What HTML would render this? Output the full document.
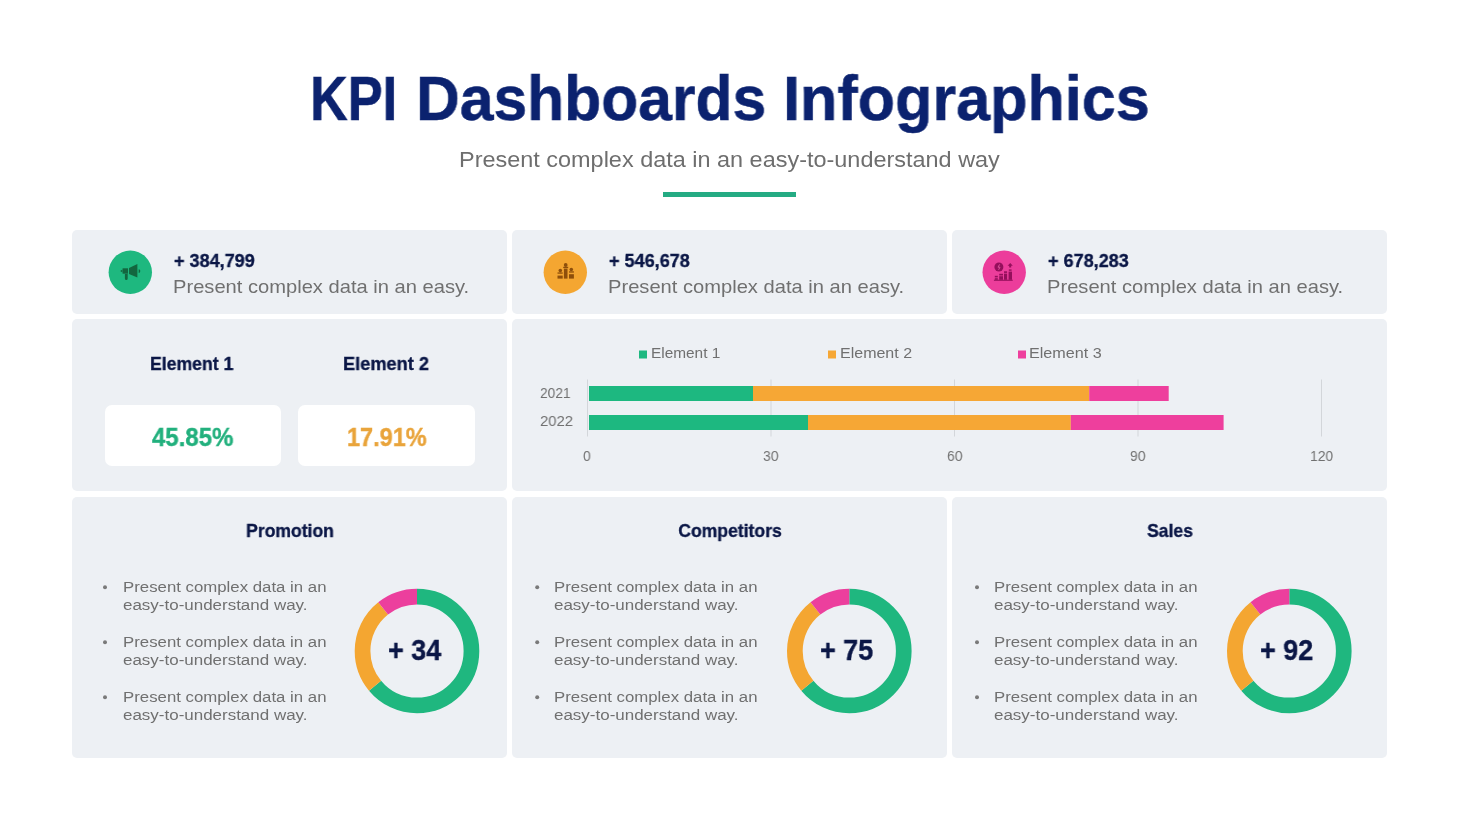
<!DOCTYPE html>
<html><head><meta charset="utf-8">
<style>
html,body{margin:0;padding:0;background:#fff;}
body{width:1460px;height:821px;position:relative;overflow:hidden;font-family:"Liberation Sans",sans-serif;}
.card{position:absolute;background:#edf0f4;border-radius:5px;}
.t{position:absolute;white-space:pre;line-height:1;transform-origin:0 0;will-change:transform;}
.ct{will-change:transform;position:absolute;width:300px;text-align:center;white-space:pre;line-height:1;font-size:18.6px;font-weight:700;color:#0b1746;transform-origin:150px 0;-webkit-text-stroke:0.35px #0b1746;}
svg{position:absolute;left:0;top:0;}
</style></head><body>
<div style="position:absolute;left:663px;top:192px;width:133px;height:5px;background:#24ab83"></div>
<div class="card" style="left:72px;top:230px;width:435px;height:84px"></div>
<div class="card" style="left:512px;top:230px;width:435px;height:84px"></div>
<div class="card" style="left:952px;top:230px;width:435px;height:84px"></div>
<div class="card" style="left:72px;top:319px;width:435px;height:172px"></div>
<div class="card" style="left:512px;top:319px;width:875px;height:172px"></div>
<div class="card" style="left:72px;top:497px;width:435px;height:261px"></div>
<div class="card" style="left:512px;top:497px;width:435px;height:261px"></div>
<div class="card" style="left:952px;top:497px;width:435px;height:261px"></div>

<svg width="1460" height="821" viewBox="0 0 1460 821">
<circle cx="130.3" cy="272.3" r="21.7" fill="#1eb87f"/>
<circle cx="565.3" cy="272.3" r="21.7" fill="#f4a631"/>
<circle cx="1004.2" cy="272.3" r="21.7" fill="#ec3d9b"/>
<g fill="#13663f">
<path d="M122.4 269.4 L120.2 271 L122.4 272.6 Z"/>
<rect x="122.6" y="268.3" width="5.4" height="5.4"/>
<path d="M129.0 267.9 L137.4 264.0 L137.4 277.6 L129.0 274.0 Z"/>
<path d="M138.7 269.2 a1.6 1.9 0 0 1 0 3.8 Z"/>
<path d="M124.9 274 h2.8 v4.4 a1.4 1.5 0 0 1 -2.8 0 Z"/>
</g>
<g fill="#8e4f0b">
<circle cx="565.7" cy="265.0" r="1.9"/>
<rect x="563.2" y="266.8" width="5" height="1.3"/>
<rect x="563.9" y="268.6" width="3.6" height="10"/>
<circle cx="560.3" cy="270.6" r="1.8"/>
<rect x="557.5" y="272.4" width="5.2" height="1.3"/>
<rect x="557.5" y="275.6" width="5.2" height="3"/>
<circle cx="571.3" cy="269.5" r="1.8"/>
<rect x="569" y="271.3" width="4.9" height="1.3"/>
<rect x="569" y="274.2" width="4.9" height="4.4"/>
</g>
<g fill="#950f5c">
<circle cx="998.9" cy="267.0" r="4.5"/>
<path d="M1010.2 262.9 l2.6 2.9 h-1.6 v1.6 h-2 v-1.6 h-1.6 Z"/>
<rect x="1008.8" y="269.4" width="2.8" height="1.4"/>
<rect x="994.8" y="275.8" width="3" height="1.6"/>
<rect x="994.8" y="278.2" width="3" height="1.6"/>
<rect x="999.2" y="273.8" width="3.8" height="1.7"/>
<rect x="999.2" y="276.2" width="3.8" height="3.6"/>
<rect x="1004" y="271.3" width="3.1" height="1.6"/>
<rect x="1004" y="273.6" width="3.1" height="6.2"/>
<rect x="1008.6" y="271.6" width="3.4" height="8.2"/>
<rect x="993.9" y="279.7" width="18.8" height="1.1"/>
</g>
<path d="M999.6 264.4 l-1.6 2.8 h2 l-1.4 2.6" stroke="#e0579f" stroke-width="0.9" fill="none"/>
<rect x="105" y="405" width="176" height="61" rx="7" fill="#fff"/>
<rect x="298" y="405" width="177" height="61" rx="7" fill="#fff"/>
<g stroke="#d3d6da" stroke-width="1">
<line x1="587.5" y1="379.5" x2="587.5" y2="436.5"/>
<line x1="771" y1="379.5" x2="771" y2="436.5"/>
<line x1="954.5" y1="379.5" x2="954.5" y2="436.5"/>
<line x1="1138" y1="379.5" x2="1138" y2="436.5"/>
<line x1="1321.5" y1="379.5" x2="1321.5" y2="436.5"/>
</g>
<rect x="589.0" y="386" width="164.0" height="15" fill="#1db880"/><rect x="753.0" y="386" width="336.2" height="15" fill="#f6a735"/><rect x="1089.2" y="386" width="79.5" height="15" fill="#ee3f9d"/><rect x="589.0" y="415" width="219.0" height="15" fill="#1db880"/><rect x="808.0" y="415" width="262.8" height="15" fill="#f6a735"/><rect x="1070.8" y="415" width="152.8" height="15" fill="#ee3f9d"/>
<rect x="639" y="350.5" width="8" height="8" fill="#1db880"/>
<rect x="828" y="350.5" width="8" height="8" fill="#f6a735"/>
<rect x="1018" y="350.5" width="8" height="8" fill="#ee3f9d"/>
<g transform="rotate(-90 417 651)" fill="none" stroke-width="15.7">
<circle cx="417" cy="651" r="54.45" stroke="#1fb77f" stroke-dasharray="218.58 342.12"/>
<circle cx="417" cy="651" r="54.45" stroke="#f4a631" stroke-dasharray="86.48 342.12" stroke-dashoffset="-218.58"/>
<circle cx="417" cy="651" r="54.45" stroke="#ec3f9d" stroke-dasharray="37.06 342.12" stroke-dashoffset="-305.06"/>
</g><g transform="rotate(-90 849.3 651)" fill="none" stroke-width="15.7">
<circle cx="849.3" cy="651" r="54.45" stroke="#1fb77f" stroke-dasharray="218.58 342.12"/>
<circle cx="849.3" cy="651" r="54.45" stroke="#f4a631" stroke-dasharray="86.48 342.12" stroke-dashoffset="-218.58"/>
<circle cx="849.3" cy="651" r="54.45" stroke="#ec3f9d" stroke-dasharray="37.06 342.12" stroke-dashoffset="-305.06"/>
</g><g transform="rotate(-90 1289.3 651)" fill="none" stroke-width="15.7">
<circle cx="1289.3" cy="651" r="54.45" stroke="#1fb77f" stroke-dasharray="218.58 342.12"/>
<circle cx="1289.3" cy="651" r="54.45" stroke="#f4a631" stroke-dasharray="86.48 342.12" stroke-dashoffset="-218.58"/>
<circle cx="1289.3" cy="651" r="54.45" stroke="#ec3f9d" stroke-dasharray="37.06 342.12" stroke-dashoffset="-305.06"/>
</g>
<circle cx="105" cy="587.3" r="2" fill="#7a7a7a"/><circle cx="105" cy="642.2" r="2" fill="#7a7a7a"/><circle cx="105" cy="697.2" r="2" fill="#7a7a7a"/><circle cx="537.2" cy="587.3" r="2" fill="#7a7a7a"/><circle cx="537.2" cy="642.2" r="2" fill="#7a7a7a"/><circle cx="537.2" cy="697.2" r="2" fill="#7a7a7a"/><circle cx="977" cy="587.3" r="2" fill="#7a7a7a"/><circle cx="977" cy="642.2" r="2" fill="#7a7a7a"/><circle cx="977" cy="697.2" r="2" fill="#7a7a7a"/>
</svg>
<div class="t" style="left:310.0px;top:67.2px;font-size:63px;font-weight:700;color:#0b226f;transform:scaleX(0.83);-webkit-text-stroke:0.5px #0b226f;">KPI</div>
<div class="t" style="left:415.8px;top:67.2px;font-size:63px;font-weight:700;color:#0b226f;transform:scaleX(0.962);-webkit-text-stroke:0.5px #0b226f;">Dashboards</div>
<div class="t" style="left:783.0px;top:67.2px;font-size:63px;font-weight:700;color:#0b226f;transform:scaleX(0.97);-webkit-text-stroke:0.5px #0b226f;">Infographics</div>
<div class="t" style="left:459.0px;top:149.0px;font-size:22.5px;color:#6e6e6e;transform:scaleX(1.042);">Present complex data in an easy-to-understand way</div>
<div class="t" style="left:173.8px;top:250.6px;font-size:19.2px;font-weight:700;color:#0b1746;transform:scaleX(0.94);-webkit-text-stroke:0.35px #0b1746;">+ 384,799</div>
<div class="t" style="left:173.2px;top:278.3px;font-size:18.5px;color:#707070;transform:scaleX(1.088);">Present complex data in an easy.</div>
<div class="t" style="left:608.8px;top:250.6px;font-size:19.2px;font-weight:700;color:#0b1746;transform:scaleX(0.94);-webkit-text-stroke:0.35px #0b1746;">+ 546,678</div>
<div class="t" style="left:608.2px;top:278.3px;font-size:18.5px;color:#707070;transform:scaleX(1.088);">Present complex data in an easy.</div>
<div class="t" style="left:1047.7px;top:250.6px;font-size:19.2px;font-weight:700;color:#0b1746;transform:scaleX(0.94);-webkit-text-stroke:0.35px #0b1746;">+ 678,283</div>
<div class="t" style="left:1047.1px;top:278.3px;font-size:18.5px;color:#707070;transform:scaleX(1.088);">Present complex data in an easy.</div>
<div class="t" style="left:150.3px;top:355.0px;font-size:18.75px;font-weight:700;color:#0b1746;transform:scaleX(0.94);-webkit-text-stroke:0.35px #0b1746;">Element 1</div>
<div class="t" style="left:342.6px;top:355.0px;font-size:18.75px;font-weight:700;color:#0b1746;transform:scaleX(0.97);-webkit-text-stroke:0.35px #0b1746;">Element 2</div>
<div class="t" style="left:152.0px;top:425.3px;font-size:25.4px;font-weight:700;color:#22b07d;transform:scaleX(0.945);-webkit-text-stroke:0.4px #22b07d;">45.85%</div>
<div class="t" style="left:346.5px;top:425.3px;font-size:25.4px;font-weight:700;color:#e9a43b;transform:scaleX(0.925);-webkit-text-stroke:0.4px #e9a43b;">17.91%</div>
<div class="t" style="left:650.5px;top:345.2px;font-size:15.4px;color:#707070;">Element 1</div>
<div class="t" style="left:839.5px;top:345.2px;font-size:15.4px;color:#707070;transform:scaleX(1.04);">Element 2</div>
<div class="t" style="left:1029.3px;top:345.2px;font-size:15.4px;color:#707070;transform:scaleX(1.05);">Element 3</div>
<div class="t" style="left:540.2px;top:385.3px;font-size:15.5px;color:#707070;transform:scaleX(0.89);">2021</div>
<div class="t" style="left:540.2px;top:413.2px;font-size:15.5px;color:#707070;transform:scaleX(0.96);">2022</div>
<div class="t" style="left:583.3px;top:448.2px;font-size:15.1px;color:#707070;transform:scaleX(0.92);">0</div>
<div class="t" style="left:763.4px;top:448.2px;font-size:15.1px;color:#707070;transform:scaleX(0.92);">30</div>
<div class="t" style="left:946.8px;top:448.2px;font-size:15.1px;color:#707070;transform:scaleX(0.92);">60</div>
<div class="t" style="left:1129.5px;top:448.2px;font-size:15.1px;color:#707070;transform:scaleX(0.92);">90</div>
<div class="t" style="left:1309.5px;top:448.2px;font-size:15.1px;color:#707070;transform:scaleX(0.92);">120</div>
<div class="t" style="left:122.6px;top:578.8px;font-size:15.3px;color:#707070;transform:scaleX(1.098);">Present complex data in an</div>
<div class="t" style="left:122.6px;top:596.8px;font-size:15.3px;color:#707070;transform:scaleX(1.109);">easy-to-understand way.</div>
<div class="t" style="left:122.6px;top:633.6px;font-size:15.3px;color:#707070;transform:scaleX(1.098);">Present complex data in an</div>
<div class="t" style="left:122.6px;top:651.6px;font-size:15.3px;color:#707070;transform:scaleX(1.109);">easy-to-understand way.</div>
<div class="t" style="left:122.6px;top:688.6px;font-size:15.3px;color:#707070;transform:scaleX(1.098);">Present complex data in an</div>
<div class="t" style="left:122.6px;top:706.6px;font-size:15.3px;color:#707070;transform:scaleX(1.109);">easy-to-understand way.</div>
<div class="t" style="left:554.4px;top:578.8px;font-size:15.3px;color:#707070;transform:scaleX(1.098);">Present complex data in an</div>
<div class="t" style="left:554.4px;top:596.8px;font-size:15.3px;color:#707070;transform:scaleX(1.109);">easy-to-understand way.</div>
<div class="t" style="left:554.4px;top:633.6px;font-size:15.3px;color:#707070;transform:scaleX(1.098);">Present complex data in an</div>
<div class="t" style="left:554.4px;top:651.6px;font-size:15.3px;color:#707070;transform:scaleX(1.109);">easy-to-understand way.</div>
<div class="t" style="left:554.4px;top:688.6px;font-size:15.3px;color:#707070;transform:scaleX(1.098);">Present complex data in an</div>
<div class="t" style="left:554.4px;top:706.6px;font-size:15.3px;color:#707070;transform:scaleX(1.109);">easy-to-understand way.</div>
<div class="t" style="left:994.4px;top:578.8px;font-size:15.3px;color:#707070;transform:scaleX(1.098);">Present complex data in an</div>
<div class="t" style="left:994.4px;top:596.8px;font-size:15.3px;color:#707070;transform:scaleX(1.109);">easy-to-understand way.</div>
<div class="t" style="left:994.4px;top:633.6px;font-size:15.3px;color:#707070;transform:scaleX(1.098);">Present complex data in an</div>
<div class="t" style="left:994.4px;top:651.6px;font-size:15.3px;color:#707070;transform:scaleX(1.109);">easy-to-understand way.</div>
<div class="t" style="left:994.4px;top:688.6px;font-size:15.3px;color:#707070;transform:scaleX(1.098);">Present complex data in an</div>
<div class="t" style="left:994.4px;top:706.6px;font-size:15.3px;color:#707070;transform:scaleX(1.109);">easy-to-understand way.</div>
<div class="t" style="left:388.4px;top:635.3px;font-size:29.6px;font-weight:700;color:#0b1746;transform:scaleX(0.91);-webkit-text-stroke:0.4px #0b1746;">+ 34</div>
<div class="t" style="left:820.3px;top:635.3px;font-size:29.6px;font-weight:700;color:#0b1746;transform:scaleX(0.91);-webkit-text-stroke:0.4px #0b1746;">+ 75</div>
<div class="t" style="left:1260.3px;top:635.3px;font-size:29.6px;font-weight:700;color:#0b1746;transform:scaleX(0.91);-webkit-text-stroke:0.4px #0b1746;">+ 92</div>
<div class="ct" style="left:139.8px;top:522.3px;transform:scaleX(0.945)">Promotion</div>
<div class="ct" style="left:579.5px;top:522.3px;transform:scaleX(0.945)">Competitors</div>
<div class="ct" style="left:1019.5px;top:522.3px;transform:scaleX(0.945)">Sales</div>
</body></html>
